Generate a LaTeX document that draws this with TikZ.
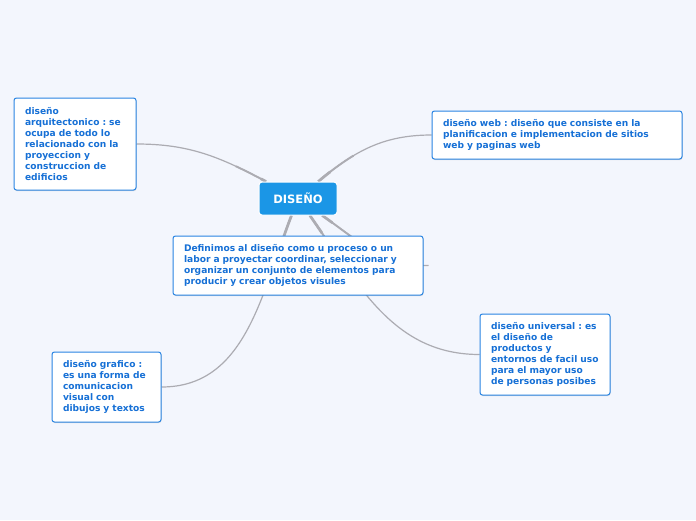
\documentclass[tikz,border=0pt]{standalone}
\usepackage{fontspec}
\setmainfont{DejaVu Sans}
\frenchspacing
\usetikzlibrary{shadows,backgrounds}
\definecolor{bgblue}{RGB}{243,246,253}
\definecolor{boxblue}{RGB}{40,132,226}
\definecolor{txtblue}{RGB}{22,112,214}
\definecolor{hubblue}{RGB}{27,150,230}
\definecolor{linegray}{RGB}{172,172,178}

\begin{document}
\begin{tikzpicture}[x=1pt,y=1pt,
    box/.style={draw=boxblue, line width=1pt, rounded corners=2.5pt, fill=white,
        text=txtblue, font=\bfseries\fontsize{9.1}{11}\selectfont, align=left,
        inner xsep=11pt, inner ysep=0pt,
        drop shadow={opacity=0.25, shadow xshift=0.5pt, shadow yshift=-1pt}},
    hub/.style={draw=white, line width=1pt, rounded corners=3pt, fill=hubblue,
        text=white, font=\bfseries\fontsize{11.5}{13}\selectfont,
        minimum width=78pt, minimum height=33pt},
    branch/.style={draw=linegray, line width=1.2pt}]
    % canvas: 696 x 520 px, y downwards taken negative
    \useasboundingbox (0,0) rectangle (696,-520);

    \node[hub] (diseno) at (298,-198.5) {DISEÑO};

    \node[box, text width=100pt, minimum height=92pt] (arq) at (75,-144)
        {diseño\\arquitectonico : se\\ocupa de todo lo\\relacionado con la\\proyeccion y\\construccion de\\edificios};
    \node[box, text width=228pt, minimum height=48pt] (web) at (557,-135)
        {diseño web : diseño que consiste en la\\planificacion e implementacion de sitios\\web y paginas web};
    \node[box, text width=228pt, minimum height=59pt] (def) at (298,-265.5)
        {Definimos al diseño como u proceso o un\\labor a proyectar coordinar, seleccionar y\\organizar un conjunto de elementos para\\producir y crear objetos visules};
    \node[box, text width=87pt, minimum height=70pt] (graf) at (106.5,-387)
        {diseño grafico :\\es una forma de\\comunicacion\\visual con\\dibujos y textos};
    \node[box, text width=108pt, minimum height=81pt] (univ) at (545,-354.5)
        {diseño universal : es\\el diseño de\\productos y\\entornos de facil uso\\para el mayor uso\\de personas posibes};

    \begin{scope}[on background layer]
        \fill[bgblue] (0,0) rectangle (696,-520);
        % branches get thicker near the hub
        \foreach \r/\w in {600/1.2, 70/1.9, 42/2.7} {
            \begin{scope}
                \clip (diseno.center) circle (\r pt);
                \tikzset{branch/.append style={line width=\w pt}}
                \draw[branch] (diseno) to[out=152,in=0] (arq.east);
                \draw[branch] (diseno) to[out=40,in=180] (web.west);
                \draw[branch] (diseno) to[out=-35,in=180] ([xshift=5pt]def.east);
                \draw[branch] (diseno) to[out=-111,in=0] (graf.east);
                \draw[branch] (diseno) to[out=-55,in=180] (univ.west);
            \end{scope}
        }
    \end{scope}
\end{tikzpicture}
\end{document}
